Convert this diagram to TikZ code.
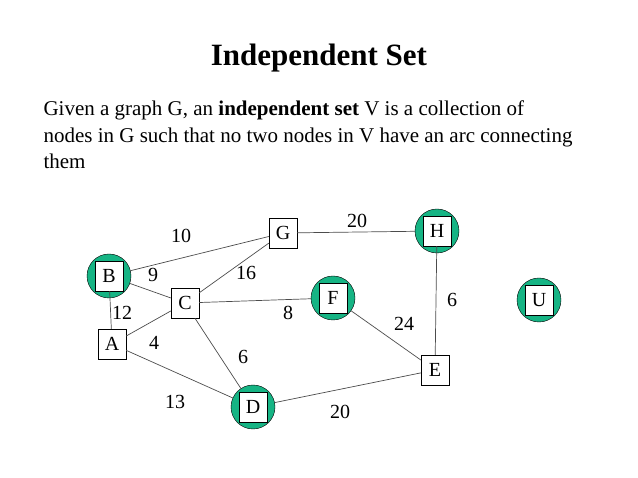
\documentclass[tikz,border=0pt]{standalone}
\usepackage{fontspec}
\setmainfont{Liberation Serif}
\definecolor{sel}{RGB}{22,180,132}
\begin{document}
\begin{tikzpicture}[x=1pt,y=-1pt,
  box/.style={draw,fill=white,minimum width=28,minimum height=30,inner sep=0,font=\fontsize{20}{20}\selectfont},
  ring/.style={circle,draw,fill=sel,minimum size=44,inner sep=0},
  lbl/.style={font=\fontsize{20}{20}\selectfont},
  edge/.style={draw=black!70,line width=0.7pt}]
\useasboundingbox (0,0) rectangle (638,478);
\node[font=\fontsize{31}{31}\selectfont\bfseries] (title) at (319,58) {Independent Set};
\node[anchor=west,align=left,font=\fontsize{21}{26.5}\selectfont] (txt) at (40,135)
  {Given a graph G, an \textbf{independent set} V is a collection of\\
   nodes in G such that no two nodes in V have an arc connecting\\
   them};
% selected nodes
\foreach \n/\p in {H/{(437,231)},B/{(109,276)},F/{(333,298)},U/{(539,300)},D/{(253,407)}}{
  \node[ring] (\n) at \p {};
  \node[box] (\n b) at \p {\n};
}
\node[box] (G) at (283,233) {G};
\node[box] (C) at (185,303) {C};
\node[box] (A) at (112,344) {A};
\node[box] (E) at (435,370) {E};
\begin{scope}[on background layer/.style={}]
\draw[edge] (B) -- (G);
\draw[edge] (G) -- (H);
\draw[edge] (B) -- (C);
\draw[edge] (Bb) -- (A);
\draw[edge] (C) -- (G);
\draw[edge] (A) -- (C);
\draw[edge] (C) -- (F);
\draw[edge] (F) -- (E);
\draw[edge] (Hb) -- (E);
\draw[edge] (C) -- (D);
\draw[edge] (A) -- (D);
\draw[edge] (D) -- (E);
\end{scope}
\foreach \t/\p [count=\i] in {10/{(181,236)},20/{(357,221)},9/{(153,275)},16/{(246,273)},12/{(122,313)},8/{(288,313)},24/{(404,324)},6/{(452,300)},4/{(154,343)},6/{(243,357)},13/{(175,402)},20/{(340,412)}}
  \node[lbl] (w\i) at \p {\t};
\end{tikzpicture}
\end{document}
